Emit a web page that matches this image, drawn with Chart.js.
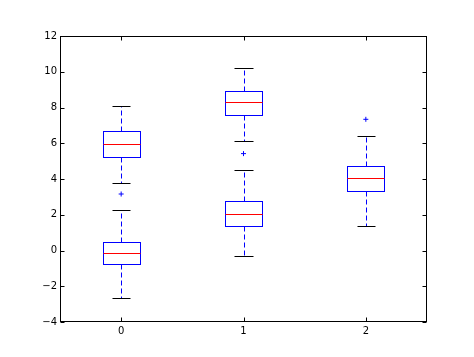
<!DOCTYPE html>
<html>
<head>
<meta charset="utf-8">
<script src="https://cdn.jsdelivr.net/npm/chart.js@4/dist/chart.umd.min.js"></script>
<style>
html,body{margin:0;padding:0;background:#fff;}
#wrap{width:474px;height:357px;position:relative;}
</style>
</head>
<body>
<div id="wrap"><canvas id="c" width="474" height="357"></canvas></div>
<script>
// ---- data ----
const xTickLabels = ["0", "1", "2"];
const boxPositions = [0, 0, 1, 1, 2];
const whiskerLow  = [3.78, -2.64, 6.13, -0.29, 1.37];
const q1Values    = [5.25, -0.76, 7.56, 1.37, 3.35];
const medians     = [5.975, -0.12, 8.33, 2.04, 4.06];
const q3Values    = [6.685, 0.49, 8.94, 2.79, 4.74];
const whiskerHigh = [8.10, 2.27, 10.19, 4.50, 6.42];
const outlierX    = [0, 1, 2];
const outlierY    = [3.16, 5.42, 7.34];
const yTicks      = [-4, -2, 0, 2, 4, 6, 8, 10, 12];

const BOX_W = 0.3;
const CAP_W = 0.15;

const boxPlugin = {
  id: 'boxes',
  afterDatasetsDraw(chart) {
    const ctx = chart.ctx;
    const xs = chart.scales.x, ys = chart.scales.y;
    const r = v => Math.round(v) + 0.5;
    ctx.save();
    ctx.lineWidth = 1;
    for (let i = 0; i < boxPositions.length; i++) {
      const p = boxPositions[i];
      const xl = r(xs.getPixelForValue(p - BOX_W / 2));
      const xr = r(xs.getPixelForValue(p + BOX_W / 2));
      const xc = r(xs.getPixelForValue(p));
      const cl = r(xs.getPixelForValue(p - CAP_W / 2));
      const cr = r(xs.getPixelForValue(p + CAP_W / 2));
      const yLo = r(ys.getPixelForValue(whiskerLow[i]));
      const yQ1 = r(ys.getPixelForValue(q1Values[i]));
      const yMd = r(ys.getPixelForValue(medians[i]));
      const yQ3 = r(ys.getPixelForValue(q3Values[i]));
      const yHi = r(ys.getPixelForValue(whiskerHigh[i]));
      // whiskers
      ctx.strokeStyle = '#0000ff';
      ctx.setLineDash([5, 3]);
      ctx.beginPath();
      ctx.moveTo(xc, yQ3); ctx.lineTo(xc, yHi);
      ctx.moveTo(xc, yQ1); ctx.lineTo(xc, yLo);
      ctx.stroke();
      ctx.setLineDash([]);
      // caps
      ctx.strokeStyle = '#000000';
      ctx.beginPath();
      ctx.moveTo(cl, yHi); ctx.lineTo(cr, yHi);
      ctx.moveTo(cl, yLo); ctx.lineTo(cr, yLo);
      ctx.stroke();
      // box
      ctx.strokeStyle = '#0000ff';
      ctx.strokeRect(xl, yQ3, xr - xl, yQ1 - yQ3);
      // median
      ctx.strokeStyle = '#ff0000';
      ctx.beginPath();
      ctx.moveTo(xl, yMd); ctx.lineTo(xr, yMd);
      ctx.stroke();
    }
    // frame and inward ticks on all four sides
    const a = chart.chartArea;
    const L = Math.round(a.left) + 0.5, R = Math.round(a.right) - 0.5;
    const T = Math.round(a.top) + 0.5, B = Math.round(a.bottom) - 0.5;
    ctx.strokeStyle = '#000000';
    ctx.strokeRect(L, T, R - L, B - T);
    ctx.beginPath();
    xTickLabels.forEach((_, k) => {
      const x = r(xs.getPixelForValue(k));
      ctx.moveTo(x, B); ctx.lineTo(x, B - 4);
      ctx.moveTo(x, T); ctx.lineTo(x, T + 4);
    });
    yTicks.forEach(v => {
      const y = r(ys.getPixelForValue(v));
      ctx.moveTo(L, y); ctx.lineTo(L + 4, y);
      ctx.moveTo(R, y); ctx.lineTo(R - 4, y);
    });
    ctx.stroke();
    ctx.restore();
  }
};

const bgPlugin = {
  id: 'bg',
  beforeDraw(chart) {
    const ctx = chart.ctx;
    ctx.save();
    ctx.fillStyle = '#ffffff';
    ctx.fillRect(0, 0, chart.width, chart.height);
    ctx.restore();
  }
};

new Chart(document.getElementById('c'), {
  type: 'scatter',
  data: {
    datasets: [{
      data: outlierX.map((x, i) => ({ x: x, y: outlierY[i] })),
      pointStyle: 'cross',
      radius: 2.5,
      borderColor: '#0000ff',
      backgroundColor: '#0000ff',
      borderWidth: 1
    }]
  },
  options: {
    responsive: false,
    animation: false,
    layout: { padding: { left: 0, top: 36, right: 47, bottom: 0 } },
    plugins: { legend: { display: false }, tooltip: { enabled: false } },
    scales: {
      x: {
        type: 'linear', min: -0.5, max: 2.5,
        afterBuildTicks: s => { s.ticks = xTickLabels.map((_, k) => ({ value: k })); },
        afterFit: s => { s.height = 35; },
        grid: { display: false, drawTicks: false },
        border: { display: false },
        ticks: {
          callback: v => xTickLabels[v] ?? '',
          color: '#000', padding: 3,
          font: { family: 'DejaVu Sans', size: 10 },
          maxRotation: 0
        }
      },
      y: {
        type: 'linear', min: -4, max: 12,
        afterBuildTicks: s => { s.ticks = yTicks.map(v => ({ value: v })); },
        afterFit: s => { s.width = 60; },
        grid: { display: false, drawTicks: false },
        border: { display: false },
        ticks: {
          callback: v => (v < 0 ? '\u2212' + Math.abs(v) : String(v)),
          color: '#000', padding: 3,
          font: { family: 'DejaVu Sans', size: 10 }
        }
      }
    }
  },
  plugins: [bgPlugin, boxPlugin]
});
</script>
</body>
</html>
